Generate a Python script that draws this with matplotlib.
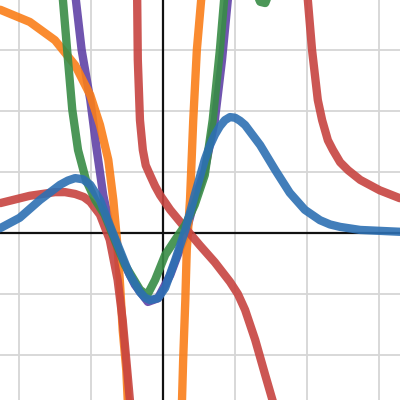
import matplotlib
matplotlib.use("Agg")
import matplotlib.pyplot as plt

# curves (data units, grid step = 1)
blue_x = [-2.26, -1.99, -1.71, -1.43, -1.32, -1.22, -1.11, -1.01, -0.875, -0.74, -0.60, -0.46, -0.32, -0.25, -0.18, -0.07, 0.03, 0.17, 0.31, 0.44, 0.58, 0.65, 0.72, 0.79, 0.86, 0.93, 1.00, 1.07, 1.14, 1.35, 1.56, 1.76, 1.97, 2.18, 2.32, 2.46, 2.74, 3.29]
blue_y = [0.08, 0.25, 0.54, 0.79, 0.86, 0.90, 0.88, 0.79, 0.54, 0.13, -0.28, -0.69, -0.97, -1.06, -1.10, -1.07, -0.90, -0.44, 0.05, 0.62, 1.20, 1.43, 1.61, 1.75, 1.85, 1.90, 1.89, 1.84, 1.77, 1.44, 1.03, 0.66, 0.38, 0.21, 0.14, 0.10, 0.05, 0.02]

red1_x = [-2.26, -1.85, -1.5, -1.36, -1.22, -1.10, -1.01, -0.875, -0.74, -0.63, -0.56, -0.51, -0.46, -0.45]
red1_y = [0.49, 0.61, 0.67, 0.67, 0.64, 0.59, 0.51, 0.30, -0.11, -0.77, -1.43, -2.08, -2.74, -3.2]
red2_x = [-0.36, -0.35, -0.33, -0.32, -0.28, -0.24, -0.18, -0.11, -0.04, 0.10, 0.31, 0.51, 0.72, 0.93, 1.04, 1.14, 1.28, 1.42, 1.56]
red2_y = [3.98, 2.84, 2.18, 1.85, 1.36, 1.11, 0.95, 0.77, 0.62, 0.38, 0.08, -0.20, -0.48, -0.80, -1.00, -1.26, -1.75, -2.33, -2.90]
red3_x = [2.00, 2.07, 2.15, 2.21, 2.29, 2.36, 2.46, 2.57, 2.74, 3.01, 3.29]
red3_y = [3.98, 3.00, 2.18, 1.85, 1.52, 1.36, 1.16, 1.03, 0.87, 0.70, 0.57]

orange1_x = [-2.26, -1.85, -1.5, -1.22, -1.01, -0.875, -0.76, -0.69, -0.64, -0.60, -0.56, -0.51, -0.49, -0.48]
orange1_y = [3.66, 3.46, 3.16, 2.75, 2.26, 1.77, 1.20, 0.54, -0.11, -0.77, -1.59, -2.25, -2.74, -3.0]
orange2_x = [0.26, 0.28, 0.31, 0.33, 0.375, 0.42, 0.47, 0.53, 0.56]
orange2_y = [-2.9, -2.08, -1.10, -0.28, 0.54, 1.85, 3.0, 3.82, 3.98]

purple_x = [-1.23, -1.21, -1.13, -1.01, -0.92, -0.83, -0.74, -0.60, -0.39, -0.21, -0.07, 0.10, 0.31, 0.44, 0.58, 0.72, 0.82, 0.90, 0.92]
purple_y = [4.0, 3.82, 3.0, 2.18, 1.36, 0.62, 0.13, -0.36, -0.85, -1.13, -1.07, -0.69, -0.03, 0.54, 1.03, 1.85, 2.84, 3.82, 4.0]

green1_x = [-1.39, -1.39, -1.32, -1.26, -1.18, -1.07, -0.94, -0.81, -0.67, -0.53, -0.32, -0.22, -0.11, 0.03, 0.17, 0.31, 0.44, 0.58, 0.69, 0.79, 0.86]
green1_y = [3.98, 3.82, 2.84, 2.02, 1.36, 0.87, 0.54, 0.30, -0.11, -0.52, -0.93, -1.02, -0.77, -0.36, -0.11, 0.13, 0.46, 0.95, 1.85, 3.0, 3.98]
green2_x = [1.28, 1.35, 1.42, 1.49]
green2_y = [3.98, 3.79, 3.77, 3.98]

fig = plt.figure(figsize=(4, 4), dpi=100)
ax = fig.add_axes([0, 0, 1, 1])
ax.set_xlim(-163 / 72, 237 / 72)
ax.set_ylim(-167 / 61, 233 / 61)

for v in range(-2, 4):
    ax.axvline(v, color="#d6d6d6", lw=1.3, zorder=0)
    ax.axhline(v, color="#d6d6d6", lw=1.3, zorder=0)
ax.axvline(0, color="#111111", lw=1.6, zorder=1)
ax.axhline(0, color="#111111", lw=1.6, zorder=1)

style = dict(lw=6, alpha=0.9, solid_capstyle="round", solid_joinstyle="round")
ax.plot(purple_x, purple_y, color="#6042a6", zorder=2, **style)
ax.plot(orange1_x, orange1_y, color="#fa7e19", zorder=3, **style)
ax.plot(orange2_x, orange2_y, color="#fa7e19", zorder=3, **style)
for xs, ys in [(red1_x, red1_y), (red2_x, red2_y), (red3_x, red3_y)]:
    ax.plot(xs, ys, color="#c74440", zorder=4, **style)
ax.plot(green1_x, green1_y, color="#388c46", zorder=5, **style)
ax.plot(green2_x, green2_y, color="#388c46", zorder=5, **style)
ax.plot(blue_x, blue_y, color="#2d70b3", zorder=6, **style)

ax.axis("off")
fig.savefig("out.png", dpi=100)
